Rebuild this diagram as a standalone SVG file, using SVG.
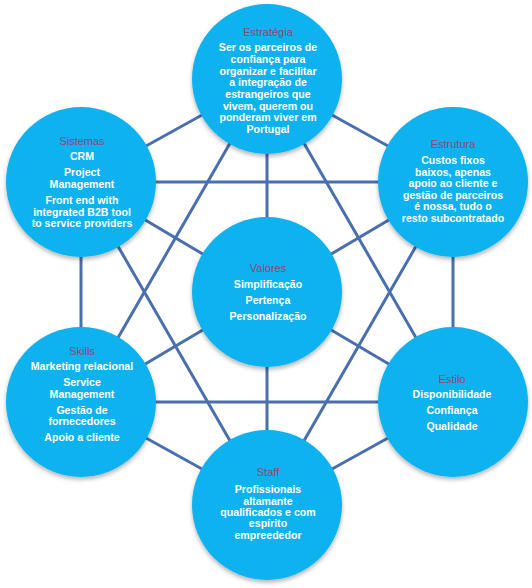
<svg xmlns="http://www.w3.org/2000/svg" width="532" height="588" viewBox="0 0 532 588">
<defs>
<filter id="sh" x="-20%" y="-20%" width="140%" height="140%">
<feDropShadow dx="0" dy="2.5" stdDeviation="2" flood-color="#000" flood-opacity="0.3"/>
</filter>
</defs>
<style>
.c{fill:#0FB2EF;filter:url(#sh)}
.t{font-family:"Liberation Sans",Arial,sans-serif;font-size:11px;fill:#8B4A73;text-anchor:middle}
.b{font-family:"Liberation Sans",Arial,sans-serif;font-size:10.6px;font-weight:bold;fill:#fff;text-anchor:middle}
.l line{stroke:#4A6FAE;stroke-width:3}
</style>
<rect width="532" height="588" fill="#fff"/>
<g id="connectors" class="l">
<line x1="267" y1="79" x2="81" y2="182"/>
<line x1="267" y1="79" x2="453" y2="182"/>
<line x1="267" y1="79" x2="267" y2="292"/>
<line x1="267" y1="79" x2="81" y2="402"/>
<line x1="267" y1="79" x2="453" y2="402"/>
<line x1="81" y1="182" x2="453" y2="182"/>
<line x1="81" y1="182" x2="267" y2="292"/>
<line x1="81" y1="182" x2="81" y2="402"/>
<line x1="81" y1="182" x2="267" y2="505"/>
<line x1="453" y1="182" x2="267" y2="292"/>
<line x1="453" y1="182" x2="453" y2="402"/>
<line x1="453" y1="182" x2="267" y2="505"/>
<line x1="267" y1="292" x2="81" y2="402"/>
<line x1="267" y1="292" x2="453" y2="402"/>
<line x1="267" y1="292" x2="267" y2="505"/>
<line x1="81" y1="402" x2="453" y2="402"/>
<line x1="81" y1="402" x2="267" y2="505"/>
<line x1="453" y1="402" x2="267" y2="505"/>
</g>
<g id="estrategia">
<circle class="c" cx="267" cy="79" r="75"/>
<text class="t" x="268" y="36">Estratégia</text>
<text class="b" x="268" y="51">Ser os parceiros de</text>
<text class="b" x="268" y="63">confiança para</text>
<text class="b" x="268" y="74.5">organizar e facilitar</text>
<text class="b" x="268" y="86">a integração de</text>
<text class="b" x="268" y="98">estrangeiros que</text>
<text class="b" x="268" y="110">vivem, querem ou</text>
<text class="b" x="268" y="121">ponderam viver em</text>
<text class="b" x="268" y="132.5">Portugal</text>
</g>
<g id="sistemas">
<circle class="c" cx="81" cy="182" r="75"/>
<text class="t" x="82" y="145">Sistemas</text>
<text class="b" x="82" y="160">CRM</text>
<text class="b" x="82" y="176">Project</text>
<text class="b" x="82" y="187.5">Management</text>
<text class="b" x="82" y="204">Front end with</text>
<text class="b" x="82" y="215.5">integrated B2B tool</text>
<text class="b" x="82" y="227">to service providers</text>
</g>
<g id="estrutura">
<circle class="c" cx="453" cy="182" r="75"/>
<text class="t" x="453" y="148">Estrutura</text>
<text class="b" x="453" y="164">Custos fixos</text>
<text class="b" x="453" y="175.5">baixos, apenas</text>
<text class="b" x="453" y="187">apoio ao cliente e</text>
<text class="b" x="453" y="198.5">gestão de parceiros</text>
<text class="b" x="453" y="210">é nossa, tudo o</text>
<text class="b" x="453" y="222">resto subcontratado</text>
</g>
<g id="valores">
<circle class="c" cx="267" cy="292" r="75"/>
<text class="t" x="268" y="272">Valores</text>
<text class="b" x="268" y="288">Simplificação</text>
<text class="b" x="268" y="304">Pertença</text>
<text class="b" x="268" y="320">Personalização</text>
</g>
<g id="skills">
<circle class="c" cx="81" cy="402" r="75"/>
<text class="t" x="82" y="355">Skills</text>
<text class="b" x="82" y="370">Marketing relacional</text>
<text class="b" x="82" y="386">Service</text>
<text class="b" x="82" y="397.5">Management</text>
<text class="b" x="82" y="414">Gestão de</text>
<text class="b" x="82" y="425">fornecedores</text>
<text class="b" x="82" y="441">Apoio a cliente</text>
</g>
<g id="estilo">
<circle class="c" cx="453" cy="402" r="75"/>
<text class="t" x="452" y="383">Estilo</text>
<text class="b" x="452" y="398">Disponibilidade</text>
<text class="b" x="452" y="414">Confiança</text>
<text class="b" x="452" y="430">Qualidade</text>
</g>
<g id="staff">
<circle class="c" cx="267" cy="505" r="75"/>
<text class="t" x="268" y="476">Staff</text>
<text class="b" x="268" y="493">Profissionais</text>
<text class="b" x="268" y="504.5">altamante</text>
<text class="b" x="268" y="515.5">qualificados e com</text>
<text class="b" x="268" y="527">espírito</text>
<text class="b" x="268" y="538.5">empreededor</text>
</g>
</svg>
